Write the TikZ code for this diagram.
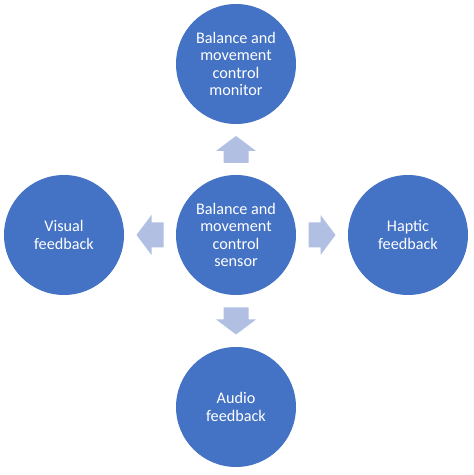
\documentclass[tikz,border=0pt]{standalone}
\usepackage{fontspec}
\setmainfont{Carlito}
\usetikzlibrary{calc}
\definecolor{circblue}{HTML}{4472C4}
\definecolor{arrblue}{HTML}{B0BFE2}
\begin{document}
\begin{tikzpicture}[x=1pt,y=1pt,
  bubble/.style={circle,fill=circblue,minimum size=120pt,inner sep=0pt,text=white,align=center,font=\fontsize{16.2}{17.3}\selectfont},
  blockarrow/.style={fill=arrblue}]
\useasboundingbox (0,0) rectangle (474,475);
\node[bubble] (c) at (236,240) {Balance and\\movement\\control\\sensor};
\node[bubble] (t) at (236,411) {Balance and\\movement\\control\\monitor};
\node[bubble] (l) at (64,240) {Visual\\feedback};
\node[bubble] (r) at (408,240) {Haptic\\feedback};
\node[bubble] (b) at (236,68) {Audio\\feedback};
\foreach \tg/\ang in {t/90,l/180,r/0,b/270}{
  \begin{scope}[shift={($(c)!0.5!(\tg)$)},rotate=\ang]
    \path[blockarrow] (-13.5,-12.5) -- (-1.5,-12.5) -- (-1.5,-20) -- (13.5,0) -- (-1.5,20) -- (-1.5,12.5) -- (-13.5,12.5) -- cycle;
  \end{scope}
}
\end{tikzpicture}
\end{document}
